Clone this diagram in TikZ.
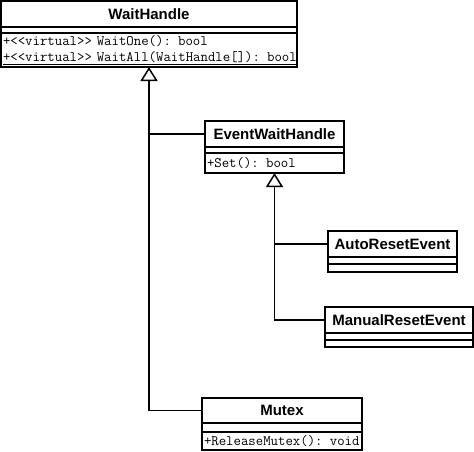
\documentclass[tikz,border=0pt]{standalone}
\usepackage{fontspec}
\newfontfamily\classfont{Liberation Sans}
\usetikzlibrary{arrows.meta}

\tikzset{
  box/.style={draw, line width=1.5pt, anchor=north west, inner sep=0pt, outer sep=0pt},
  classname/.style={box, font=\classfont\bfseries\fontsize{15}{17}\selectfont},
  opsbox/.style={box, font=\ttfamily\fontsize{14.4}{16}\selectfont, align=left, inner xsep=2pt},
  link/.style={line width=1.5pt},
  gen/.style={link, -{Triangle[open, length=14pt, width=17pt]}},
}

\begin{document}
\begin{tikzpicture}[x=1pt, y=-1pt]

    % 1. Fix the page to the reference size
    \useasboundingbox (0,0) rectangle (474,451);

    % 2. Base class WaitHandle
    \node [classname, minimum width=296pt, minimum height=26pt] (wh) at (1,1) {WaitHandle};
    \node [box, minimum width=296pt, minimum height=6pt] (wh-a) at (wh.south west) {};
    \node [opsbox, text width=292pt, minimum height=34pt] (wh-m) at (wh-a.south west)
        {+<{}<virtual>{}> WaitOne(): bool\\\underline{+<{}<virtual>{}> WaitAll(WaitHandle[]): bool}};

    % 3. EventWaitHandle
    \node [classname, minimum width=139pt, minimum height=26pt] (ewh) at (205,121) {EventWaitHandle};
    \node [box, minimum width=139pt, minimum height=6pt] (ewh-a) at (ewh.south west) {};
    \node [opsbox, text width=135pt, minimum height=20pt] (ewh-m) at (ewh-a.south west) {+Set(): bool};

    % 4. AutoResetEvent (empty compartments)
    \node [classname, minimum width=129pt, minimum height=26pt] (are) at (328,231) {AutoResetEvent};
    \node [box, minimum width=129pt, minimum height=7pt] (are-a) at (are.south west) {};
    \node [box, minimum width=129pt, minimum height=8pt] (are-m) at (are-a.south west) {};

    % 5. ManualResetEvent (empty compartments)
    \node [classname, minimum width=148pt, minimum height=26pt] (mre) at (325,307) {ManualResetEvent};
    \node [box, minimum width=148pt, minimum height=7pt] (mre-a) at (mre.south west) {};
    \node [box, minimum width=148pt, minimum height=7pt] (mre-m) at (mre-a.south west) {};

    % 6. Mutex
    \node [classname, minimum width=160pt, minimum height=25pt] (mtx) at (202,398) {Mutex};
    \node [box, minimum width=160pt, minimum height=9pt] (mtx-a) at (mtx.south west) {};
    \node [opsbox, text width=156pt, minimum height=18pt] (mtx-m) at (mtx-a.south west) {+ReleaseMutex(): void};

    % 7. Generalisations to WaitHandle
    \draw [gen] (mtx.west) -| (wh-m.south);
    \draw [link] (ewh.west) -- (ewh.west -| wh-m.south);

    % 8. Generalisations to EventWaitHandle
    \draw [gen] (mre.west) -| (ewh-m.south);
    \draw [link] (are.west) -- (are.west -| ewh-m.south);

\end{tikzpicture}
\end{document}
